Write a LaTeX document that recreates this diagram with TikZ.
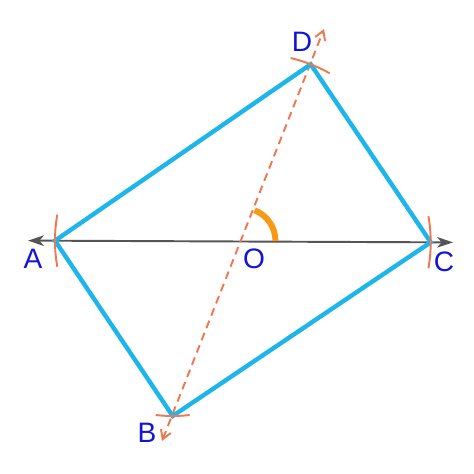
\documentclass[tikz,border=0pt]{standalone}
\usepackage{fontspec}
\setmainfont{Liberation Sans}
\usepackage{tikz}
\usetikzlibrary{arrows.meta}
\definecolor{sideblue}{RGB}{30,182,234}
\definecolor{markorange}{RGB}{240,120,80}
\definecolor{angleorange}{RGB}{248,152,20}
\definecolor{lblblue}{RGB}{20,20,215}
\definecolor{axisgray}{RGB}{85,85,85}

\begin{document}
\begin{tikzpicture}[x=0.02cm,y=0.02cm,
    side/.style={sideblue, line width=2.5pt, line join=miter},
    axisline/.style={axisgray, line width=1.1pt, {Stealth[length=9pt,width=6pt,inset=2.5pt]}-{Stealth[length=9pt,width=6pt,inset=2.5pt]}},
    diagline/.style={markorange, line width=1.1pt, dash pattern=on 4.5pt off 3pt, {Straight Barb[length=5pt,width=6pt]}-{Straight Barb[length=5pt,width=6pt]}},
    markarc/.style={markorange, line width=1.1pt},
    anglearc/.style={angleorange, line width=3.4pt},
    lbl/.style={lblblue, font=\fontsize{16}{18}\selectfont, inner sep=0pt}]
  \useasboundingbox (0,0) rectangle (474,474);

  % corners of the rectangle
  \coordinate (A) at (55,233.3);
  \coordinate (B) at (172.7,58);
  \coordinate (C) at (430.7,231.7);
  \coordinate (D) at (310.7,409.7);
  \coordinate (O) at (242.5,233);

  % ends of the two lines
  \coordinate (Aend) at (28,233.4);
  \coordinate (Cend) at (453,231.6);
  \coordinate (Bend) at (162,33);
  \coordinate (Dend) at (324,445);

  \draw[axisline] (Aend) -- (Cend);
  \draw[diagline] (Bend) -- (Dend);

  \draw[side] (A) -- (D) -- (C) -- (B) -- cycle;

  % compass marks
  \draw[markarc] (A) ++(150,0) ++(170:150) arc (170:190:150);
  \draw[markarc] (C) ++(-150,0) ++(-10:150) arc (-10:10:150);
  \draw[markarc] (D) ++(248.6:150) ++(60.6:150) arc (60.6:76.6:150);
  \draw[markarc] (B) ++(90:150) ++(263.5:150) arc (263.5:276.5:150);

  % angle at O
  \draw[anglearc] (O) ++(0:33) arc (0:68.6:33);

  \node[lbl] (labA) at (33,215) {A};
  \node[lbl] (labB) at (147,41) {B};
  \node[lbl] (labC) at (444,212) {C};
  \node[lbl] (labD) at (302,432) {D};
  \node[lbl] (labO) at (254,215) {O};
\end{tikzpicture}
\end{document}
